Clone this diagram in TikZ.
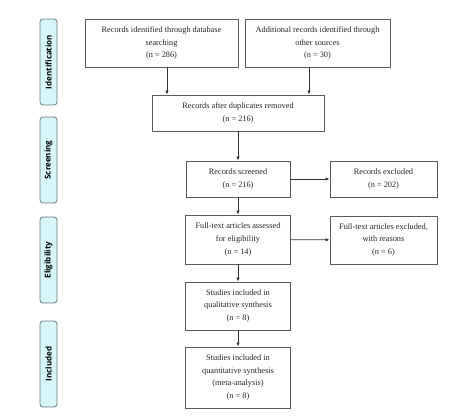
\documentclass[tikz,border=0pt]{standalone}
\usepackage{fontspec}
\setmainfont{Liberation Serif}
\newfontfamily\sidefont{Open Sans}
\usetikzlibrary{arrows.meta,calc}
\definecolor{sidefill}{HTML}{D6F6FA}
\definecolor{sideline}{HTML}{6A7A7E}
\definecolor{boxline}{HTML}{5A5A5A}
\tikzset{
  x=1pt,y=1pt,
  box/.style={draw=boxline,line width=0.9pt,fill=white,align=center,inner sep=1pt,
    font=\fontsize{8.3}{12.6}\selectfont,text=black!85},
  side/.style={draw=sideline,line width=0.8pt,fill=sidefill,rounded corners=3pt,
    minimum width=86pt,minimum height=17pt,rotate=90,inner sep=0pt,
    font=\sidefont\bfseries\fontsize{8}{9}\selectfont},
  arr/.style={draw=black!80,line width=0.8pt,-{Latex[length=4pt,width=3.5pt]}}
}
\begin{document}
\begin{tikzpicture}
\useasboundingbox (0,0) rectangle (474,-417);
% side labels
\node[side] (s1) at (48.5,-62) {Identification};
\node[side] (s2) at (48.5,-160) {Screening};
\node[side] (s3) at (48.5,-260) {Eligibility};
\node[side] (s4) at (48.5,-364) {Included};
% boxes
\node[box,minimum width=153pt,minimum height=48pt] (b1) at (161.5,-43)
  {Records identified through database\\searching\\(n = 286)};
\node[box,minimum width=145pt,minimum height=48pt] (b2) at (317.5,-43)
  {Additional records identified through\\other sources\\(n = 30)};
\node[box,minimum width=172pt,minimum height=36pt] (b3) at (238,-113)
  {Records after duplicates removed\\(n = 216)};
\node[box,minimum width=104pt,minimum height=36pt] (b4) at (238,-179)
  {Records screened\\(n = 216)};
\node[box,minimum width=107pt,minimum height=36pt] (b5) at (383.5,-179)
  {Records excluded\\(n = 202)};
\node[box,minimum width=105pt,minimum height=49pt] (b6) at (238,-239.5)
  {Full-text articles assessed\\for eligibility\\(n = 14)};
\node[box,minimum width=107pt,minimum height=48pt] (b7) at (383.5,-240)
  {Full-text articles excluded,\\with reasons\\(n = 6)};
\node[box,minimum width=105pt,minimum height=48pt] (b8) at (238,-306)
  {Studies included in\\qualitative synthesis\\(n = 8)};
\node[box,minimum width=105pt,minimum height=61pt] (b9) at (238,-377.5)
  {Studies included in\\quantitative synthesis\\(meta-analysis)\\(n = 8)};
% connectors
\draw[arr] (b1.south -| 167,0) -- (b3.north -| 167,0);
\draw[arr] (b2.south -| 309,0) -- (b3.north -| 309,0);
\draw[arr] (b3) -- (b4);
\draw[arr] (b4) -- (b5);
\draw[arr] (b4) -- (b6);
\draw[arr] (b6) -- (b7);
\draw[arr] (b6) -- (b8);
\draw[arr] (b8) -- (b9);
\end{tikzpicture}
\end{document}
